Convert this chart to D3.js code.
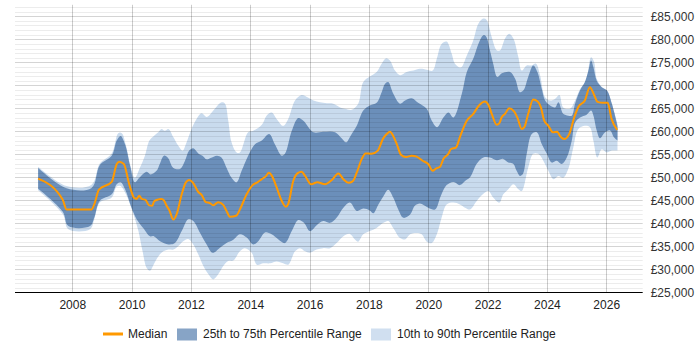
<!DOCTYPE html>
<html><head><meta charset="utf-8">
<script src="https://cdn.jsdelivr.net/npm/d3@7"></script>
<style>body{margin:0;background:#fff}svg{display:block}</style>
</head><body><svg id="c" width="700" height="350"></svg>
<script>
// ---- data (decimal years, GBP) ----
const medianDates = [2006.85,2007.68,2007.81,2008.65,2008.74,2008.9,2009.33,2009.5,2009.58,2009.74,2009.92,2010.09,2010.17,2010.26,2010.34,2010.47,2010.59,2010.7,2010.76,2010.92,2011.01,2011.09,2011.18,2011.27,2011.41,2011.52,2011.69,2011.83,2011.94,2012.06,2012.25,2012.36,2012.5,2012.64,2012.75,2012.92,2013.09,2013.2,2013.32,2013.54,2013.65,2013.88,2014.08,2014.24,2014.39,2014.52,2014.63,2014.74,2014.89,2015.06,2015.2,2015.28,2015.45,2015.6,2015.73,2015.85,2016.05,2016.26,2016.52,2016.75,2016.97,2017.14,2017.31,2017.45,2017.59,2017.76,2017.89,2018.09,2018.3,2018.47,2018.6,2018.71,2018.82,2018.94,2019.08,2019.25,2019.44,2019.61,2019.81,2020.0,2020.15,2020.26,2020.4,2020.51,2020.68,2020.76,2020.94,2021.07,2021.3,2021.52,2021.72,2021.91,2022.03,2022.14,2022.31,2022.4,2022.48,2022.59,2022.73,2022.9,2023.01,2023.15,2023.24,2023.37,2023.54,2023.69,2023.8,2023.91,2024.05,2024.2,2024.35,2024.44,2024.58,2024.76,2024.92,2025.06,2025.28,2025.45,2025.6,2025.71,2025.9,2026.05,2026.18,2026.37];
const medianValues = [49700,45100,43000,43000,44100,47300,49000,52900,53400,52900,48500,45500,45300,46000,45300,45100,43900,43800,44800,45200,45300,45000,43800,42900,40800,42000,46300,48900,49400,48900,46800,46200,44600,44400,43900,44600,44000,42700,41400,41700,43000,46300,48300,48900,49600,50200,51000,50200,47800,44900,43600,44200,49200,50900,51200,50300,48500,48900,48500,49400,50800,49600,48800,49100,51000,54000,55200,55100,55800,58300,59400,59900,59000,57200,54900,54400,54700,54500,53600,52900,51400,51900,52300,54000,55100,56100,56500,58800,62300,63800,65700,66500,65700,63800,61400,61800,63100,63800,65000,64300,62900,60500,60900,63800,66900,66500,65200,62300,61200,59800,59900,59000,58300,59500,63000,65300,66700,69600,67800,66400,66200,66200,62700,60300];

const p75Dates = [2006.85,2007.81,2008.65,2008.93,2009.33,2009.5,2009.63,2009.78,2009.95,2010.11,2010.26,2010.51,2010.64,2010.84,2010.95,2011.09,2011.23,2011.4,2011.63,2011.8,2011.94,2012.08,2012.25,2012.39,2012.53,2012.66,2012.88,2013.03,2013.2,2013.37,2013.54,2013.71,2013.93,2014.16,2014.39,2014.64,2014.83,2015.06,2015.17,2015.4,2015.62,2015.79,2016.13,2016.46,2016.86,2017.08,2017.23,2017.38,2017.59,2017.81,2018.03,2018.26,2018.43,2018.54,2018.65,2018.82,2019.05,2019.22,2019.44,2019.66,2019.95,2020.12,2020.3,2020.51,2020.68,2020.85,2021.13,2021.3,2021.52,2021.69,2021.86,2021.95,2022.08,2022.19,2022.33,2022.48,2022.76,2022.93,2023.09,2023.21,2023.37,2023.54,2023.68,2023.83,2023.94,2024.11,2024.28,2024.39,2024.55,2024.72,2024.84,2024.95,2025.12,2025.28,2025.4,2025.49,2025.57,2025.68,2025.85,2026.02,2026.19,2026.38];
const p75Values = [52000,47600,47700,52700,54700,58000,59000,57200,52500,48900,49900,51200,50600,51400,52900,54700,54200,52100,51800,53600,55800,56300,55200,54700,53900,54200,54700,54300,52100,49900,48900,51400,54700,57200,58000,59400,57200,54700,55100,60100,62900,62300,59800,59900,59800,58500,57600,59000,61200,64500,65600,66200,68500,70300,70700,68200,66000,66700,67200,66200,64900,62300,60900,63000,64100,63000,68100,72900,75800,79000,80900,80600,77600,74700,71800,72600,72900,71400,68500,68900,71800,74300,72900,69200,66700,65600,65200,66300,63800,63400,63400,66000,68900,70700,73200,75400,73900,71000,69600,68900,66000,61200];

const p25Dates = [2006.85,2007.68,2007.87,2008.6,2008.74,2008.93,2009.33,2009.5,2009.63,2009.78,2010.0,2010.17,2010.39,2010.62,2010.75,2010.96,2011.24,2011.46,2011.69,2011.91,2012.08,2012.31,2012.53,2012.73,2012.98,2013.2,2013.43,2013.65,2013.88,2014.1,2014.27,2014.5,2014.72,2014.95,2015.17,2015.4,2015.62,2015.81,2016.01,2016.24,2016.46,2016.69,2016.91,2017.14,2017.36,2017.59,2017.81,2018.03,2018.15,2018.32,2018.49,2018.65,2018.82,2018.99,2019.16,2019.39,2019.55,2019.72,2020.0,2020.23,2020.42,2020.62,2020.85,2021.07,2021.24,2021.41,2021.63,2021.86,2022.08,2022.31,2022.53,2022.7,2022.87,2022.98,2023.09,2023.19,2023.32,2023.49,2023.66,2023.83,2024.0,2024.16,2024.33,2024.5,2024.67,2024.84,2024.95,2025.12,2025.34,2025.49,2025.57,2025.68,2025.79,2025.96,2026.13,2026.26,2026.38];
const p25Values = [47500,42500,39400,39400,41200,44900,46300,48500,48900,47400,43400,40900,39000,37200,37200,36100,35400,35700,38300,40900,40500,37900,35400,33600,34700,35700,36400,37600,36900,35400,36100,38000,37600,36500,35700,38300,40700,40100,38300,39600,40500,40100,41200,43400,44500,42700,43200,42800,42200,44100,45900,47300,45600,43000,41200,41900,43800,44300,43400,43000,45900,48300,49000,48300,49200,50000,52900,54300,54300,53700,54000,53200,52900,51400,50300,50700,55100,59400,59800,57200,55100,53200,53600,52900,54300,58000,61900,63000,63600,64500,63400,60200,58500,59800,60200,58700,58000];

const p90Dates = [2006.85,2007.81,2008.65,2008.93,2009.33,2009.55,2009.67,2009.81,2009.98,2010.11,2010.28,2010.45,2010.6,2010.75,2010.9,2011.01,2011.12,2011.24,2011.41,2011.57,2011.72,2011.83,2012.02,2012.19,2012.36,2012.53,2012.7,2012.87,2013.04,2013.15,2013.26,2013.37,2013.54,2013.65,2013.93,2014.1,2014.39,2014.55,2014.72,2014.89,2015.11,2015.28,2015.51,2015.73,2015.96,2016.13,2016.35,2016.58,2016.8,2017.03,2017.19,2017.42,2017.64,2017.81,2018.03,2018.26,2018.43,2018.58,2018.71,2018.88,2019.05,2019.27,2019.5,2019.72,2019.95,2020.15,2020.29,2020.45,2020.62,2020.79,2020.9,2021.1,2021.3,2021.52,2021.69,2021.86,2021.97,2022.14,2022.31,2022.42,2022.59,2022.73,2022.87,2023.04,2023.15,2023.32,2023.49,2023.63,2023.77,2023.94,2024.11,2024.28,2024.42,2024.55,2024.78,2024.95,2025.12,2025.32,2025.49,2025.59,2025.68,2025.85,2026.02,2026.19,2026.38];
const p90Values = [52300,48100,48400,53000,55200,59600,59600,56900,52100,49900,52100,54700,58000,59000,59800,60500,60100,60500,58700,56900,55800,57200,60500,62700,63900,63100,64100,65400,66300,66000,62300,57600,55400,55400,59800,60100,61400,63400,64100,62700,61200,62700,66700,67900,67300,66700,66300,66100,66000,65200,64900,64700,66000,70700,71900,72900,74700,75900,75400,73200,72200,72900,73200,73600,73400,73200,75800,79000,79500,76900,74700,73900,76500,79800,83400,84500,84200,80500,77600,77600,80200,81200,80200,76100,73200,74300,74300,74700,72200,67400,66700,67100,67900,65200,64900,66700,69200,71000,76100,75100,71400,69600,68900,66000,61600];

const p10Dates = [2006.85,2007.68,2007.87,2008.6,2008.74,2008.93,2009.33,2009.5,2009.63,2009.81,2010.06,2010.23,2010.37,2010.51,2010.62,2010.75,2010.9,2011.07,2011.24,2011.41,2011.57,2011.74,2011.91,2012.08,2012.25,2012.42,2012.59,2012.75,2012.92,2013.09,2013.26,2013.43,2013.65,2013.82,2014.05,2014.22,2014.44,2014.67,2014.89,2015.11,2015.28,2015.51,2015.68,2015.85,2016.01,2016.24,2016.46,2016.69,2016.91,2017.14,2017.36,2017.53,2017.64,2017.81,2018.03,2018.26,2018.49,2018.65,2018.82,2019.05,2019.22,2019.39,2019.61,2019.78,2019.95,2020.12,2020.29,2020.45,2020.62,2020.85,2021.07,2021.24,2021.41,2021.63,2021.86,2022.03,2022.19,2022.4,2022.53,2022.7,2022.87,2023.04,2023.15,2023.37,2023.54,2023.71,2023.88,2024.05,2024.22,2024.39,2024.55,2024.72,2024.89,2025.06,2025.28,2025.45,2025.57,2025.7,2025.85,2026.02,2026.19,2026.38];
const p10Values = [47200,42000,38700,38700,40800,44500,45600,48000,48100,46300,42000,38300,33900,30300,29700,31100,32800,33900,34300,34300,35000,36100,36600,35400,33200,30700,28900,27800,28900,30700,31800,31900,33900,34600,33600,31000,31300,31300,31700,31300,31000,33900,34600,33900,33600,34300,34600,34600,35700,37200,37700,36500,36000,37600,38300,39000,40100,40500,39000,36800,36500,37600,37900,37600,36000,35700,37600,41200,44100,44500,44100,43400,43000,44800,46400,47000,45600,44500,46300,47400,48500,47400,47000,52100,55100,55100,53600,51400,49600,50300,49900,51800,56500,60500,61200,60900,57900,54300,56100,55400,55800,55800];

const xTickValues = [2008,2010,2012,2014,2016,2018,2020,2022,2024,2026];
const yTickValues = [25000,30000,35000,40000,45000,50000,55000,60000,65000,70000,75000,80000,85000];
const legendLabels = ["Median","25th to 75th Percentile Range","10th to 90th Percentile Range"];

// ---- chart ----
(function () {
const svg = d3.select("#c");
const pLeft = 15, pRight = 642.7, pTop = 4.8, pBottom = 292.3;
const x = d3.scaleLinear().domain([2006.07, 2027.23]).range([pLeft, pRight]);
const y = d3.scaleLinear().domain([25000, 87500]).range([pBottom, pTop]);
const font = "'Liberation Sans', Arial, sans-serif";

const pts = (ds, vs) => ds.map((d, i) => [d, vs[i]]);
const lineGen = d3.line().x(d => x(d[0])).y(d => y(d[1])).curve(d3.curveCatmullRom.alpha(0.5));
function bandPath(upD, upV, loD, loV) {
  const up = pts(upD, upV);
  const lo = pts(loD, loV).reverse();
  return lineGen(up) + "L" + lineGen(lo).slice(1) + "Z";
}

svg.append("path").attr("d", bandPath(p90Dates, p90Values, p10Dates, p10Values)).attr("fill", "#c9dbee");
svg.append("path").attr("d", bandPath(p75Dates, p75Values, p25Dates, p25Values)).attr("fill", "#6b8fba");

// grid overlay
const minor = d3.range(26000, 88000, 1000).filter(v => v % 5000 !== 0);
svg.append("g").selectAll("line").data(minor).join("line")
  .attr("x1", pLeft).attr("x2", pRight).attr("y1", d => Math.round(y(d)) + 0.5).attr("y2", d => Math.round(y(d)) + 0.5)
  .attr("stroke", "rgba(0,0,0,0.075)");
svg.append("g").selectAll("line").data(yTickValues.filter(v => v > 25000)).join("line")
  .attr("x1", pLeft).attr("x2", pRight).attr("y1", d => Math.round(y(d)) + 0.5).attr("y2", d => Math.round(y(d)) + 0.5)
  .attr("stroke", "rgba(0,0,0,0.17)");
svg.append("g").selectAll("line").data(xTickValues).join("line")
  .attr("x1", d => Math.round(x(d)) + 0.5).attr("x2", d => Math.round(x(d)) + 0.5).attr("y1", pTop).attr("y2", pBottom)
  .attr("stroke", "rgba(0,0,0,0.2)");

// median
svg.append("path").datum(pts(medianDates, medianValues))
  .attr("d", d3.line().x(d => x(d[0])).y(d => y(d[1])).curve(d3.curveMonotoneX))
  .attr("fill", "none").attr("stroke", "#ff9900").attr("stroke-width", 2).attr("stroke-linejoin", "round");

// x axis
const xAxis = svg.append("g").attr("transform", `translate(0,${Math.round(pBottom) + 0.5})`)
  .call(d3.axisBottom(x).tickValues(xTickValues).tickFormat(d3.format("d")).tickSize(0).tickPadding(8));
xAxis.select(".domain").attr("stroke", "#000").attr("d", `M${pLeft},0H${pRight}`);
xAxis.selectAll("text").attr("font-family", font).attr("font-size", 12).attr("fill", "#222");

// y axis (right)
const yAxis = svg.append("g").attr("transform", `translate(${pRight},0)`)
  .call(d3.axisRight(y).tickValues(yTickValues).tickFormat(d => "£" + d3.format(",")(d)).tickSize(0).tickPadding(8));
yAxis.select(".domain").remove();
yAxis.selectAll("text").attr("font-family", font).attr("font-size", 12).attr("fill", "#333");

// legend
const lg = svg.append("g").attr("font-family", font).attr("font-size", 12).attr("fill", "#222");
lg.append("line").attr("x1", 103).attr("x2", 123).attr("y1", 334).attr("y2", 334).attr("stroke", "#ff9900").attr("stroke-width", 3);
lg.append("text").attr("x", 128).attr("y", 338).text(legendLabels[0]);
lg.append("rect").attr("x", 177).attr("y", 328.5).attr("width", 20).attr("height", 12).attr("fill", "#87a4c6");
lg.append("text").attr("x", 203).attr("y", 338).text(legendLabels[1]);
lg.append("rect").attr("x", 371).attr("y", 328.5).attr("width", 20).attr("height", 12).attr("fill", "#d0dff0");
lg.append("text").attr("x", 397).attr("y", 338).text(legendLabels[2]);
})();
</script>
</body></html>
